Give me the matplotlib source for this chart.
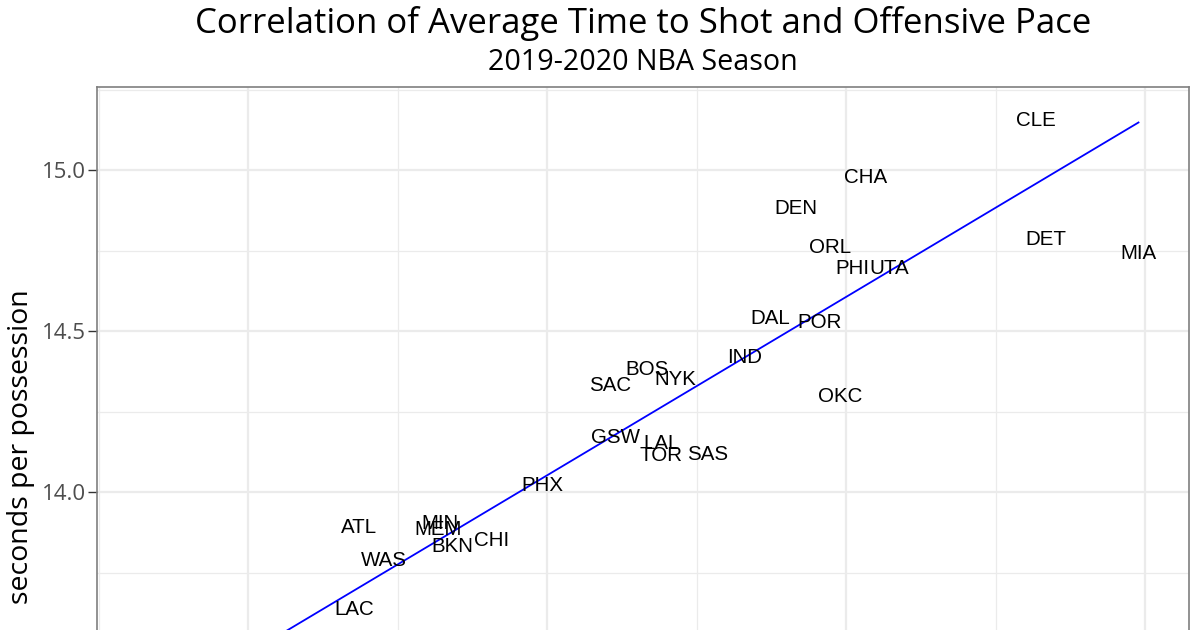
import numpy as np
import matplotlib
matplotlib.use("Agg")
from matplotlib import pyplot as plt
from matplotlib.ticker import MultipleLocator, FixedLocator, FormatStrFormatter

# Datos (eje x: tiempo medio hasta el tiro, eje y: segundos por posesion)
teams = ["CLE", "CHA", "DEN", "ORL", "PHI", "UTA", "DET", "MIA", "DAL", "POR",
         "IND", "OKC", "BOS", "SAC", "NYK", "GSW", "LAL", "TOR", "SAS", "PHX",
         "ATL", "MIN", "MEM", "BKN", "CHI", "WAS", "LAC"]
time_to_shot = [13.635, 13.064, 12.833, 12.947, 13.020, 13.144, 13.669, 13.978, 12.747, 12.913,
                12.661, 12.982, 12.335, 12.211, 12.429, 12.228, 12.384, 12.380, 12.538, 11.984,
                11.371, 11.643, 11.636, 11.682, 11.816, 11.456, 11.354]
sec_per_poss = [15.155, 14.978, 14.882, 14.761, 14.696, 14.696, 14.785, 14.741, 14.539, 14.529,
                14.420, 14.298, 14.382, 14.332, 14.351, 14.172, 14.151, 14.115, 14.117, 14.022,
                13.892, 13.905, 13.884, 13.833, 13.851, 13.789, 13.636]
y_ticks = [14.0, 14.5, 15.0]
y_minor = [13.75, 14.25, 14.75, 15.25]

# Recta de regresion (lm)
fit_slope = 0.554
fit_intercept = 7.405
fit_x = [11.0, 13.978]

fig = plt.figure(figsize=(12, 6.3), dpi=100)
# El panel sigue por debajo del borde de la imagen (recortado como en el original)
ax = fig.add_axes([0.0806, -0.281, 0.910, 1.1429])

ax.set_xlim(10.494, 14.146)
ax.set_ylim(13.023, 15.259)

ax.xaxis.set_major_locator(MultipleLocator(1.0))
ax.xaxis.set_minor_locator(MultipleLocator(0.5))
ax.yaxis.set_major_locator(FixedLocator(y_ticks))
ax.yaxis.set_minor_locator(FixedLocator(y_minor))
ax.grid(which="major", color="#ebebeb", linewidth=1.6, zorder=0)
ax.grid(which="minor", color="#ebebeb", linewidth=0.9, zorder=0)
ax.set_axisbelow(True)

for s in ax.spines.values():
    s.set_color("#7f7f7f")
    s.set_linewidth(1.2)

ax.tick_params(axis="y", which="major", length=6.5, width=1, color="#333333",
               labelsize=16, labelcolor="#4d4d4d", pad=1)
ax.tick_params(axis="y", which="minor", length=0)
ax.tick_params(axis="x", which="both", length=0, labelbottom=False)
ax.yaxis.set_major_formatter(FormatStrFormatter("%.1f"))
for lbl in ax.get_yticklabels():
    lbl.set_fontfamily("Open Sans")

xs = np.array(fit_x)
ax.plot(xs, fit_slope * xs + fit_intercept, color="blue", linewidth=1.3, zorder=2)

for t, x, y in zip(teams, time_to_shot, sec_per_poss):
    ax.text(x, y, t, ha="center", va="center", fontsize=14.8,
            family="Liberation Sans", color="black", zorder=3)

ax.set_ylabel("seconds per possession", fontsize=20.5, family="Open Sans",
              color="black", labelpad=5)

fig.text(0.5356, 0.962, "Correlation of Average Time to Shot and Offensive Pace",
         ha="center", va="center", fontsize=25, family="Open Sans")
fig.text(0.5356, 0.900, "2019-2020 NBA Season",
         ha="center", va="center", fontsize=20.6, family="Open Sans")

fig.savefig("out.png", dpi=100)
